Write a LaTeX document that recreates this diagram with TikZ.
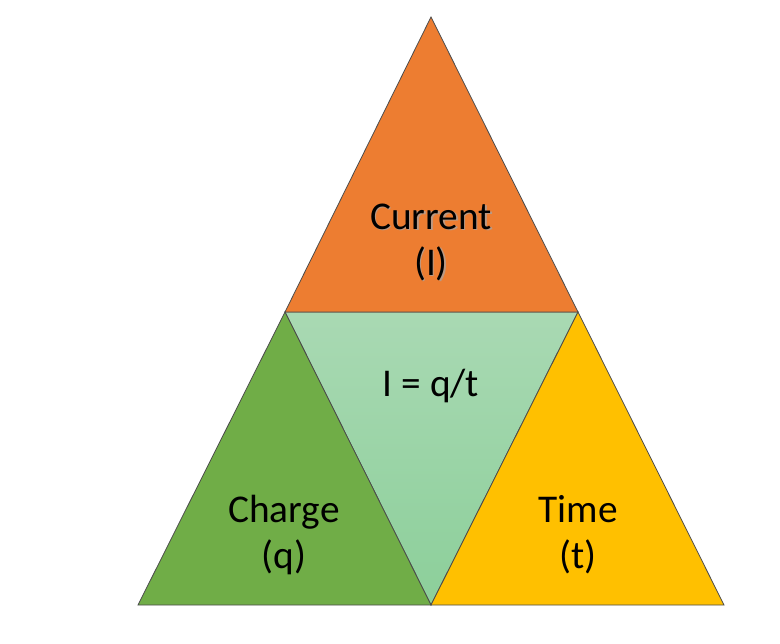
\documentclass[tikz,border=0pt]{standalone}
\usepackage{fontspec}
\setmainfont{Carlito}
\begin{document}
\begin{tikzpicture}[x=0.75pt,y=-0.75pt,
  tri/.style={draw=black!70, line width=0.6pt, line join=miter},
  lbl/.style={font=\fontsize{29.5}{34.5}\selectfont, align=center, text=black},
  shd/.style={font=\fontsize{29.5}{34.5}\selectfont, align=center, text=black!35, opacity=0.7}]
\useasboundingbox (0,0) rectangle (780,643);
\definecolor{corange}{HTML}{ED7D31}
\definecolor{cgreen}{HTML}{70AD47}
\definecolor{cyellow}{HTML}{FFC000}
\definecolor{ctop}{HTML}{A9D9B3}
\definecolor{cbot}{HTML}{8CCF9A}
\coordinate (A) at (431,17);
\coordinate (L) at (285,312);
\coordinate (R) at (578,312);
\coordinate (BL) at (138,605);
\coordinate (BM) at (431,605);
\coordinate (BR) at (724,605);
\fill[top color=ctop, bottom color=cbot] (L) -- (R) -- (BM) -- cycle;
\draw[tri] (L) -- (R) -- (BM) -- cycle;
\filldraw[tri, fill=corange] (A) -- (R) -- (L) -- cycle;
\filldraw[tri, fill=cgreen] (L) -- (BM) -- (BL) -- cycle;
\filldraw[tri, fill=cyellow] (R) -- (BR) -- (BM) -- cycle;
\node[shd] at (432.5,243.5) {Current\\(I)};
\node[lbl] (cur) at (431,242) {Current\\(I)};
\node[lbl] (eq) at (431,386) {I = q/t};
\node[lbl] (chg) at (284,535) {Charge\\(q)};
\node[lbl] (tim) at (578,535) {Time\\(t)};
\end{tikzpicture}
\end{document}
